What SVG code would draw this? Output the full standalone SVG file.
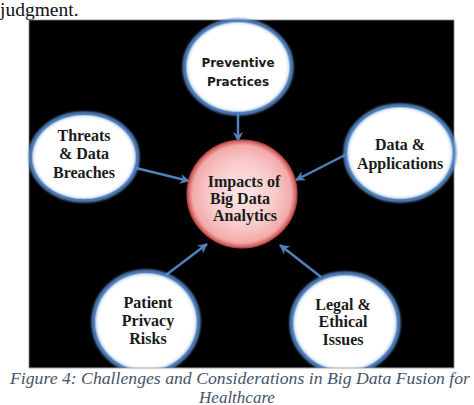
<svg xmlns="http://www.w3.org/2000/svg" width="474" height="405" viewBox="0 0 474 405">
<style>
.node-text{font-family:"Liberation Serif","DejaVu Serif",serif;font-weight:bold;font-size:16px;fill:#1a1a1a;text-anchor:middle}
.sans-text{font-family:"DejaVu Sans",Verdana,sans-serif;font-weight:bold;font-size:12px;fill:#1a1a1a;text-anchor:middle}
.ring{fill:url(#ringGrad);stroke:#4a7ebb;stroke-width:1.2}
.glow{fill:none;stroke:#5b8fd0;stroke-width:3;filter:url(#glow)}
.conn{stroke:#4f81bd;stroke-width:2.5;fill:none;marker-end:url(#arrow)}
.caption{font-family:"Liberation Serif","DejaVu Serif",serif;font-style:italic;font-size:17px;fill:#44546a}
</style>
<defs>
<radialGradient id="ringGrad" cx="50%" cy="50%" r="50%">
<stop offset="0" stop-color="#ffffff"/>
<stop offset="0.9" stop-color="#ffffff"/>
<stop offset="0.95" stop-color="#e4ecf7"/>
<stop offset="1" stop-color="#4a7ebb"/>
</radialGradient>
<radialGradient id="centerGrad" cx="50%" cy="50%" r="50%">
<stop offset="0" stop-color="#fde6e6"/>
<stop offset="0.6" stop-color="#f9caca"/>
<stop offset="0.9" stop-color="#f3aaaa"/>
<stop offset="1" stop-color="#c8504f"/>
</radialGradient>
<filter id="glow" x="-20%" y="-20%" width="140%" height="140%">
<feGaussianBlur stdDeviation="1.2"/>
</filter>
<marker id="arrow" viewBox="0 0 10 10" refX="9" refY="5" markerWidth="4" markerHeight="4" orient="auto" markerUnits="strokeWidth">
<path d="M0,0 L10,5 L0,10 L3,5 Z" fill="#4f81bd"/>
</marker>
</defs>
<rect width="474" height="405" fill="#ffffff"/>
<text x="0" y="16" font-family="Liberation Serif, DejaVu Serif, serif" font-size="19.5" fill="#111">judgment.</text>
<rect x="29" y="20" width="425" height="348" fill="#000000" stroke="#888" stroke-width="0.8"/>
<g id="connectors">
<line class="conn" x1="238" y1="114" x2="238" y2="141"/>
<line class="conn" x1="136" y1="168" x2="189" y2="181"/>
<line class="conn" x1="347" y1="154" x2="296" y2="180"/>
<line class="conn" x1="166" y1="275" x2="207" y2="244"/>
<line class="conn" x1="321" y1="277" x2="280" y2="245"/>
</g>
<g id="preventive">
<ellipse class="glow" cx="238" cy="67" rx="54" ry="47"/>
<ellipse class="ring" cx="238" cy="67" rx="53" ry="46"/>
<text class="sans-text" x="238" y="67">Preventive</text>
<text class="sans-text" x="238" y="86">Practices</text>
</g>
<g id="threats">
<ellipse class="glow" cx="84" cy="157" rx="54" ry="44"/>
<ellipse class="ring" cx="84" cy="157" rx="53" ry="43"/>
<text class="node-text" x="84" y="141">Threats</text>
<text class="node-text" x="84" y="159">&amp; Data</text>
<text class="node-text" x="84" y="178">Breaches</text>
</g>
<g id="data-applications">
<ellipse class="glow" cx="400" cy="153" rx="55" ry="48"/>
<ellipse class="ring" cx="400" cy="153" rx="54" ry="47"/>
<text class="node-text" x="400" y="150">Data &amp;</text>
<text class="node-text" x="400" y="169">Applications</text>
</g>
<g id="impacts">
<ellipse cx="242" cy="194" rx="55" ry="54" fill="url(#centerGrad)" stroke="#b94545" stroke-width="1.2"/>
<text class="node-text" x="244" y="187">Impacts of</text>
<text class="node-text" x="240" y="204">Big Data</text>
<text class="node-text" x="245" y="221">Analytics</text>
</g>
<g id="patient">
<ellipse class="glow" cx="146" cy="322" rx="53" ry="51"/>
<ellipse class="ring" cx="146" cy="322" rx="52" ry="50"/>
<text class="node-text" x="148" y="308">Patient</text>
<text class="node-text" x="148" y="326">Privacy</text>
<text class="node-text" x="148" y="344">Risks</text>
</g>
<g id="legal">
<ellipse class="glow" cx="345" cy="323" rx="54" ry="50"/>
<ellipse class="ring" cx="345" cy="323" rx="53" ry="49"/>
<text class="node-text" x="343" y="310">Legal &amp;</text>
<text class="node-text" x="343" y="327">Ethical</text>
<text class="node-text" x="343" y="345">Issues</text>
</g>
<rect x="0" y="368" width="474" height="37" fill="#ffffff"/>
<line x1="29" y1="368" x2="454" y2="368" stroke="#888" stroke-width="0.8"/>
<text class="caption" x="10" y="384" textLength="460" lengthAdjust="spacingAndGlyphs">Figure 4: Challenges and Considerations in Big Data Fusion for</text>
<text class="caption" x="237" y="403" text-anchor="middle">Healthcare</text>
</svg>
